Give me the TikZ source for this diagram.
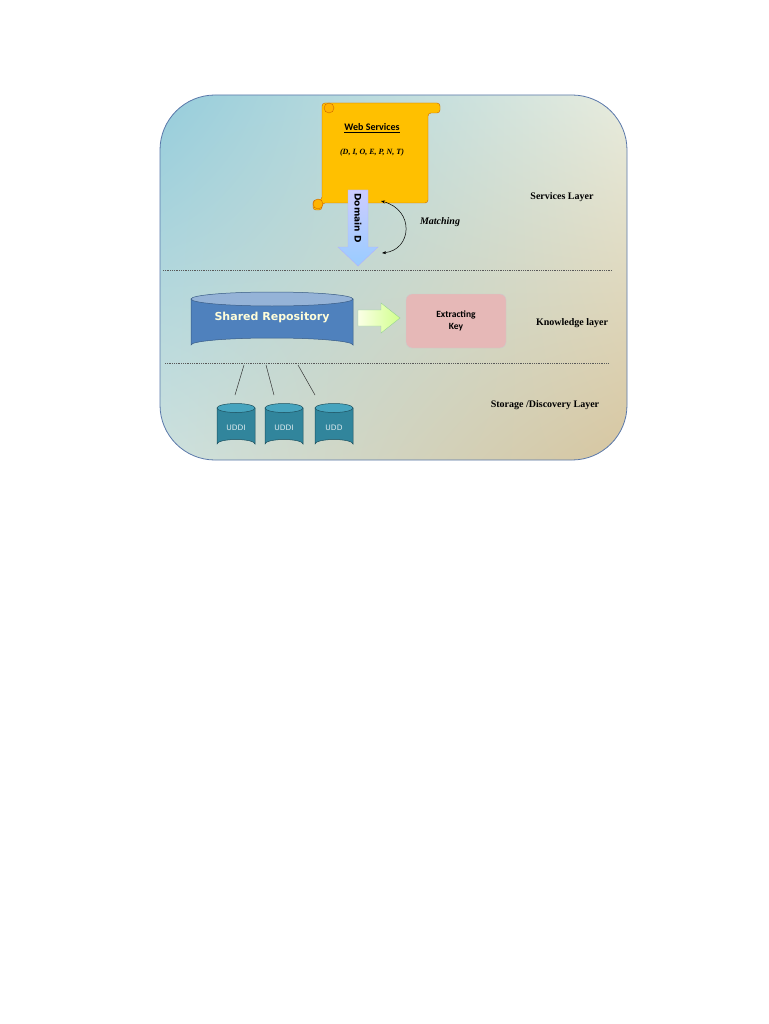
\documentclass[tikz,border=0pt]{standalone}
\usepackage{fontspec}
\setmainfont{Liberation Serif}
\newfontfamily\carlitofont{Carlito}
\newfontfamily\dejavufont{DejaVu Sans}
\usetikzlibrary{arrows.meta,shapes.geometric,shadows,shadings}
\definecolor{scroll}{HTML}{FFC000}
\definecolor{repo}{HTML}{4F81BD}
\definecolor{repotop}{HTML}{95B3D7}
\definecolor{uddi}{HTML}{31859C}
\definecolor{uddtop}{HTML}{4BACC6}
\definecolor{keyc}{HTML}{E6B8B7}
\definecolor{bgul}{RGB}{150,205,220}
\definecolor{bgur}{RGB}{232,236,222}
\definecolor{bgll}{RGB}{205,225,222}
\definecolor{bglr}{RGB}{215,198,160}
\definecolor{bgedge}{RGB}{90,120,170}
\begin{document}
\begin{tikzpicture}[x=1pt,y=-1pt,
  layer/.style={font=\bfseries\fontsize{10}{12}\selectfont},
  sep/.style={densely dotted,gray!70!black,line width=0.8pt},
  link/.style={gray!40!black,line width=0.5pt}]
\useasboundingbox[fill=white] (0,0) rectangle (768,1024);
% background panel
\shade[rounded corners=55pt,upper left=bgul,upper right=bgur,lower left=bgll,lower right=bglr]
  (160,95) rectangle (627,460);
\draw[rounded corners=55pt,bgedge,line width=0.8pt] (160,95) rectangle (627,460);
\draw[sep] (163,270) -- (612,270);
\draw[sep] (165,363) -- (608,363);
% scroll
\fill[scroll,draw=orange!80!black,line width=0.4pt,rounded corners=3pt]
  (322,103) -- (440,103) -- (440,113) -- (428,113) -- (428,203) -- (322,203) -- (322,210) -- (313,210) -- (313,200) -- (322,200) -- cycle;
\fill[scroll!80!orange,draw=orange!80!black,line width=0.4pt] (329,108) circle (5pt);
\fill[scroll!80!orange,draw=orange!80!black,line width=0.4pt] (318,204) circle (5pt);
\node[font=\carlitofont\bfseries\fontsize{10}{12}\selectfont] (ws) at (372,128) {\underline{Web Services}};
\node[font=\bfseries\itshape\fontsize{8}{10}\selectfont] (tup) at (372,153) {(D, I, O, E, P, N, T)};
% Domain arrow
\shade[top color=blue!20!white,bottom color=blue!50!cyan!40!white,draw=blue!30!white]
  (348,190) -- (368,190) -- (368,247) -- (378,247) -- (358,266) -- (338,247) -- (348,247) -- cycle;
\node[rotate=-90,font=\dejavufont\bfseries\fontsize{9}{10}\selectfont] (dom) at (358,218) {Domain D};
\coordinate (m1) at (381,201);
\coordinate (m2) at (382,253);
\draw[{Stealth[length=4pt]}-{Stealth[length=4pt]},black,line width=0.5pt] (m1) .. controls (415,210) and (412,250) .. (m2);
\node[font=\bfseries\itshape\fontsize{10}{12}\selectfont] (mat) at (440,222) {Matching};
\node[layer] (sl) at (562,197) {Services Layer};
% repository cylinder
\fill[repo,draw=repo!70!black,line width=0.5pt] (191,299) -- (191,345) arc[start angle=180,end angle=360,x radius=81,y radius=7] -- (353,299) -- cycle;
\fill[repotop,draw=repo!70!black,line width=0.5pt] (272,299) ellipse[x radius=81,y radius=7];
\node[font=\dejavufont\bfseries\fontsize{11}{13}\selectfont,text=yellow!15!white] (repo) at (272,318) {Shared Repository};
% green arrow
\shade[left color=green!15!yellow!10!white,right color=green!40!yellow!45!white,draw=green!40!gray!60!white]
  (358,310) -- (381,310) -- (381,303) -- (400,318) -- (381,333) -- (381,326) -- (358,326) -- cycle;
\node[fill=keyc,draw=gray!40,rounded corners=6pt,minimum width=100pt,minimum height=54pt,align=center,font=\carlitofont\bfseries\fontsize{9.5}{12}\selectfont] (key) at (456,321) {Extracting\\Key};
\node[layer] (kl) at (572,323) {Knowledge layer};
% UDDI cylinders
\foreach \cx/\t/\n in {236/UDDI/u1,284/UDDI/u2,334/UDD/u3}{
  \fill[uddi,draw=uddi!60!black,line width=0.5pt] (\cx-19,408) -- (\cx-19,444) arc[start angle=180,end angle=360,x radius=19,y radius=4.5] -- (\cx+19,408) -- cycle;
  \fill[uddtop!80!uddi,draw=uddi!60!black,line width=0.5pt] (\cx,408) ellipse[x radius=19,y radius=4.5];
  \node[font=\dejavufont\fontsize{7.5}{9}\selectfont,text=white!85!uddi] (\n) at (\cx,428) {\t};
}
\coordinate (a1) at (244,365); \coordinate (b1) at (235,395);
\coordinate (a2) at (266,365); \coordinate (b2) at (274,395);
\coordinate (a3) at (298,365); \coordinate (b3) at (315,395);
\draw[link] (a1) -- (b1); \draw[link] (a2) -- (b2); \draw[link] (a3) -- (b3);
\node[layer] (stl) at (545,405) {Storage /Discovery Layer};
\end{tikzpicture}
\end{document}
